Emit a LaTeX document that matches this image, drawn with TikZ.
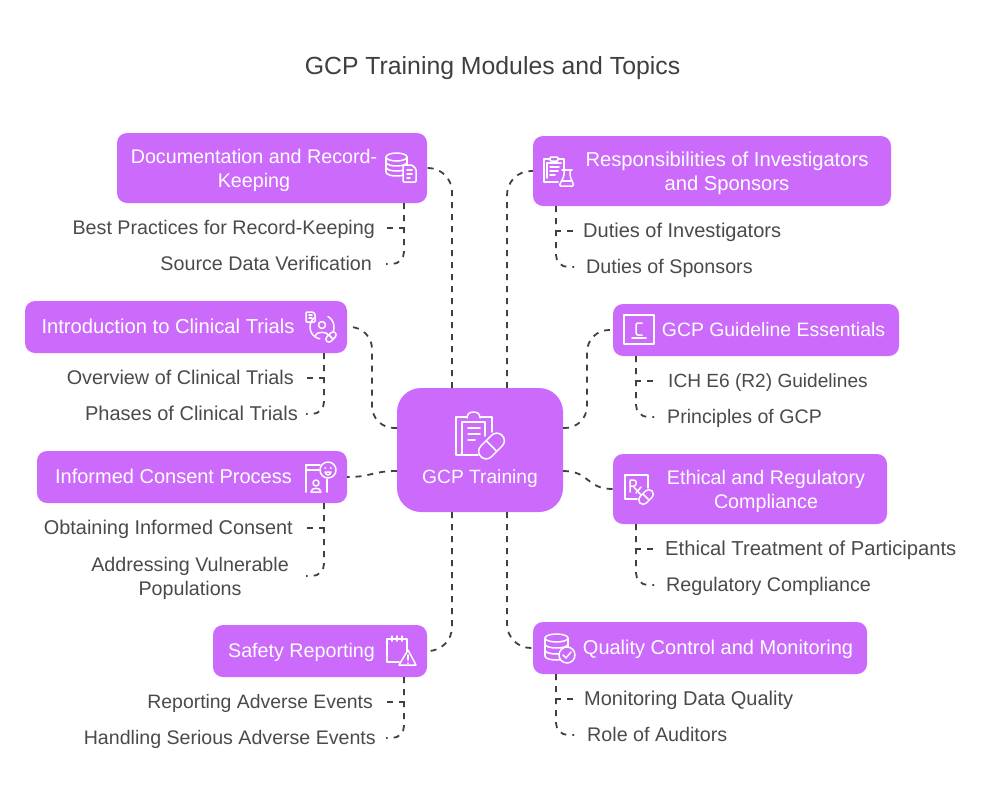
\documentclass[tikz,border=0pt]{standalone}
\usepackage{fontspec}
\setmainfont{Liberation Sans}
\definecolor{boxfill}{RGB}{203,106,251}
\definecolor{linkgray}{RGB}{64,64,64}
\definecolor{subgray}{RGB}{74,74,74}
\tikzset{
  fs/.style={font=\fontsize{#1}{24}\selectfont},
  box/.style={fill=boxfill, rounded corners=10pt, inner sep=0pt},
  boxtext/.style={text=white, fs=19.7, align=center, inner sep=0pt},
  boxline/.style={boxtext, text height=14.5pt, text depth=1.5pt},
  sub/.style={text=subgray, fs=19.7, align=center, inner ysep=0pt},
  subline/.style={sub, text height=14.5pt, text depth=1.5pt},
  link/.style={draw=linkgray, line width=1.8pt, dash pattern=on 6pt off 6pt},
  icon/.style={draw=white, line width=1.5pt, line cap=round, line join=round}
}
% pill: x, y, length, width, angle
\newcommand{\pillicon}[5]{
  \draw[icon, fill=boxfill, shift={(#1,#2)}, rotate=#5, rounded corners=#4*0.49pt] ({-#3/2},{-#4/2}) rectangle ({#3/2},{#4/2});
  \draw[icon, shift={(#1,#2)}, rotate=#5] (0,{-#4/2}) -- (0,{#4/2});
}
% db stack: x, top, x radius, y radius, level gap
\newcommand{\dbicon}[5]{
  \draw[icon] (#1,#2) circle [x radius=#3pt, y radius=#4pt];
  \draw[icon] ({#1-#3},#2) -- ({#1-#3},{#2+3*#5}) ({#1+#3},#2) -- ({#1+#3},{#2+3*#5});
  \foreach \k in {1,2,3}
    \draw[icon] ({#1-#3},{#2+\k*#5}) .. controls ({#1-#3},{#2+\k*#5+1.33*#4}) and ({#1+#3},{#2+\k*#5+1.33*#4}) .. ({#1+#3},{#2+\k*#5});
}

\begin{document}
\begin{tikzpicture}[x=1pt,y=-1pt]
\useasboundingbox (0,0) rectangle (984,798);
\node[text=subgray!85!black, fs=24.8, text height=18pt, text depth=2pt, inner sep=0pt] (heading) at (492.5,66) {GCP Training Modules and Topics};

% boxes
\node[box, rounded corners=24pt, minimum width=166pt, minimum height=124pt] (gcp) at (480,450) {};
\foreach \name/\xx/\yy/\ww/\hh in {docbox/272/168/310/70, respbox/712/171/358/70,
    introbox/186/327/322/52, guidebox/756/330/286/52, consentbox/192/477/310/52,
    ethicbox/750/489/274/70, safetybox/320/651/214/52, qualitybox/700/648/334/52}
  \node[box, minimum width=\ww pt, minimum height=\hh pt] (\name) at (\xx,\yy) {};

\node[boxline, fs=19.2] (gcptext) at (480,477) {GCP Training};
\node[boxtext] (doctext) at (254,170) {Documentation and Record-\\Keeping};
\node[boxtext, fs=20.2] (resptext) at (727,173) {Responsibilities of Investigators\\and Sponsors};
\node[boxline, fs=20.2] (introtext) at (168,327) {Introduction to Clinical Trials};
\node[boxline, fs=19.4] (guidetext) at (773.5,330) {GCP Guideline Essentials};
\node[boxline, fs=20] (consenttext) at (173.5,477) {Informed Consent Process};
\node[boxtext] (ethictext) at (766,491) {Ethical and Regulatory\\Compliance};
\node[boxline] (safetytext) at (301.5,651) {Safety Reporting};
\node[boxline, fs=20] (qualitytext) at (718,648) {Quality Control and Monitoring};

% sub topics
\foreach \name/\xx/\yy/\sep/\size/\txt in {bestlab/386/228/11/19.7/Best Practices for Record-Keeping,
    srclab/386/264/14/19.7/Source Data Verification, overlab/306/378/12/19.8/Overview of Clinical Trials,
    phaselab/306/414/8/20/Phases of Clinical Trials, obtainlab/306/528/13/19.9/Obtaining Informed Consent,
    reportlab/386/702/13/19.4/Reporting Adverse Events, handlab/386/738/10/19.6/Handling Serious Adverse Events}
  \node[subline, fs=\size, anchor=east, inner xsep=\sep pt] (\name) at (\xx,\yy) {\txt};
\node[sub, anchor=east, inner xsep=17pt] (vulnlab) at (306,578) {Addressing Vulnerable\\Populations};
\foreach \name/\xx/\yy/\sep/\size/\txt in {invlab/574/231/9/20/Duties of Investigators,
    sponlab/574/267/12/19.7/Duties of Sponsors, ichlab/654/381/14/19.1/ICH E6 (R2) Guidelines,
    princlab/654/417/13/19.6/Principles of GCP, treatlab/654/549/11/20.2/Ethical Treatment of Participants,
    complab/654/585/12/19.7/Regulatory Compliance, datalab/574/699/10/20/Monitoring Data Quality,
    audlab/574/735/13/19.7/Role of Auditors}
  \node[subline, fs=\size, anchor=west, inner xsep=\sep pt] (\name) at (\xx,\yy) {\txt};

% free ends on the boxes
\coordinate (gcpTL) at (452,388);
\coordinate (gcpTR) at (507,388);
\coordinate (gcpBL) at (452,512);
\coordinate (gcpBR) at (507,512);
\coordinate (gcpLU) at (397,428);
\coordinate (gcpLD) at (397,471);
\coordinate (gcpRU) at (563,428);
\coordinate (gcpRD) at (563,471);
\coordinate (docstem) at (404,203);
\coordinate (respstem) at (556,206);
\coordinate (introstem) at (324,353);
\coordinate (guidestem) at (636,356);
\coordinate (consentstem) at (324,503);
\coordinate (ethicstem) at (636,524);
\coordinate (safetystem) at (404,677);
\coordinate (qualitystem) at (556,674);
\coordinate (vulnend) at (306,576);

% connectors
\draw[link, rounded corners=24pt] (gcpTL) |- (docbox.east);
\draw[link, rounded corners=24pt] (gcpTR) |- (respbox.west);
\draw[link, rounded corners=24pt] (gcpBL) |- (safetybox.east);
\draw[link, rounded corners=24pt] (gcpBR) |- (qualitybox.west);
\draw[link, rounded corners=22pt] (gcpLU) -| (372,380) |- (introbox.east);
\draw[link, rounded corners=22pt] (gcpRU) -| (587,380) |- (guidebox.west);
\draw[link] (gcpLD) .. controls (372,471) and (372,477) .. (consentbox.east);
\draw[link] (gcpRD) .. controls (590,471) and (586,489) .. (ethicbox.west);

\foreach \stem/\one/\oneend/\two/\twoend in {docstem/bestlab/east/srclab/east, introstem/overlab/east/phaselab/east,
    consentstem/obtainlab/east/vulnend/center, safetystem/reportlab/east/handlab/east,
    respstem/invlab/west/sponlab/west, guidestem/ichlab/west/princlab/west,
    ethicstem/treatlab/west/complab/west, qualitystem/datalab/west/audlab/west}{
  \draw[link] (\stem) |- (\one.\oneend);
  \draw[link, rounded corners=12pt] (\stem) |- (\two.\twoend);
}

% icons
% gcp: clipboard and pill
\draw[icon] (467,417) -- (456,417) -- (456,455) -- (478,455);
\draw[icon] (480,417) -- (492,417) -- (492,432);
\draw[icon, rounded corners=2pt] (467,418) -- (467,415) -- (470,412) -- (477,412) -- (480,415) -- (480,418);
\draw[icon] (462,454) -- (462,422) -- (485,422) -- (485,436);
\draw[icon] (468,428) -- (480,428) (468,434) -- (480,434) (468,440) -- (475,440);
\pillicon{491.5}{446}{30}{15}{45}

% doc: db and sheet
\dbicon{396.5}{157}{10.5}{4}{5}
\draw[icon, fill=boxfill, rounded corners=1pt] (403,165) -- (412,165) -- (416,169) -- (416,182) -- (403,182) -- cycle;
\draw[icon] (407,170) -- (412,170) (407,174) -- (412,174) (407,178) -- (410,178);

% resp: clipboard and flask
\draw[icon] (550,159) -- (544,159) -- (544,182) -- (558,182);
\draw[icon] (558,159) -- (564,159) -- (564,170);
\draw[icon, rounded corners=1pt] (550,161) -- (550,157) -- (558,157) -- (558,161) -- cycle;
\draw[icon] (547,178) -- (547,163) -- (561,163);
\draw[icon] (550,167) -- (559,167) (550,171) -- (558,171) (550,175) -- (555,175);
\draw[icon, fill=boxfill, rounded corners=1.5pt] (564,170) -- (564,176) -- (559,186) -- (574,186) -- (570,176) -- (570,170);
\draw[icon] (562,170) -- (572,170) (562,181) -- (571,181);

% intro: sheet, person and pill
\draw[icon, rounded corners=1pt] (306,312) -- (313,312) -- (315,314) -- (315,322) -- (306,322) -- cycle;
\draw[icon] (309,315) -- (312,315) (309,318) -- (312,318);
\draw[icon] plot[domain=-60:20, samples=15] ({322+12*cos(\x)},{327+12*sin(\x)});
\draw[icon] plot[domain=100:230, samples=15] ({322+12*cos(\x)},{327+12*sin(\x)});
\draw[icon] (322,325) circle [radius=3.5pt];
\draw[icon] (315,336) .. controls (316,331) and (328,331) .. (329,336);
\pillicon{331}{337}{12}{6}{45}

% guide: framed letter
\draw[icon] (624,315) rectangle (654,344);
\draw[icon, rounded corners=2pt] (642,323) -- (636,323) -- (636,335) -- (642,335);
\draw[icon] (632,338) -- (646,338);

% consent: window, smiley and person
\draw[icon] (306,492) -- (306,465) -- (320,465);
\draw[icon] (306,470) -- (319,470);
\draw[icon] (328,470) circle [radius=8pt];
\draw[icon] (325,472) .. controls (326,476) and (330,476) .. (331,472) -- cycle;
\draw[icon] (325,468) -- (325.5,468) (330.5,468) -- (331,468);
\draw[icon] (316,483) circle [radius=3pt];
\draw[icon] (311,492) .. controls (311,487) and (321,487) .. (321,492) -- (311,492);
\draw[icon] (327,479) -- (327,492);

% ethic: sheet, Rx and pill
\draw[icon] (637,499) -- (625,499) -- (625,475) -- (648,475) -- (648,488);
\draw[icon] (630,492) -- (630,480) -- (634,480) .. controls (637,480) and (637,486) .. (634,486) -- (630,486) (633,486) -- (641,495) (641,487) -- (636,493);
\pillicon{646}{497}{17}{9}{45}

% safety: calendar and warning sign
\draw[icon] (399,662) -- (387,662) -- (387,639) -- (407,639) -- (407,651);
\draw[icon] (392,636) -- (392,641) (397,636) -- (397,641) (402,636) -- (402,641);
\draw[icon, fill=boxfill] (408,650) -- (416,665) -- (399,665) -- cycle;
\draw[icon] (408,655) -- (408,660) (408,663) -- (408,663.2);

% quality: db and check
\dbicon{556.5}{638}{11.5}{4}{6}
\draw[icon, fill=boxfill] (567,655) circle [radius=8pt];
\draw[icon] (563,655) -- (566,658) -- (571,652);
\end{tikzpicture}
\end{document}
